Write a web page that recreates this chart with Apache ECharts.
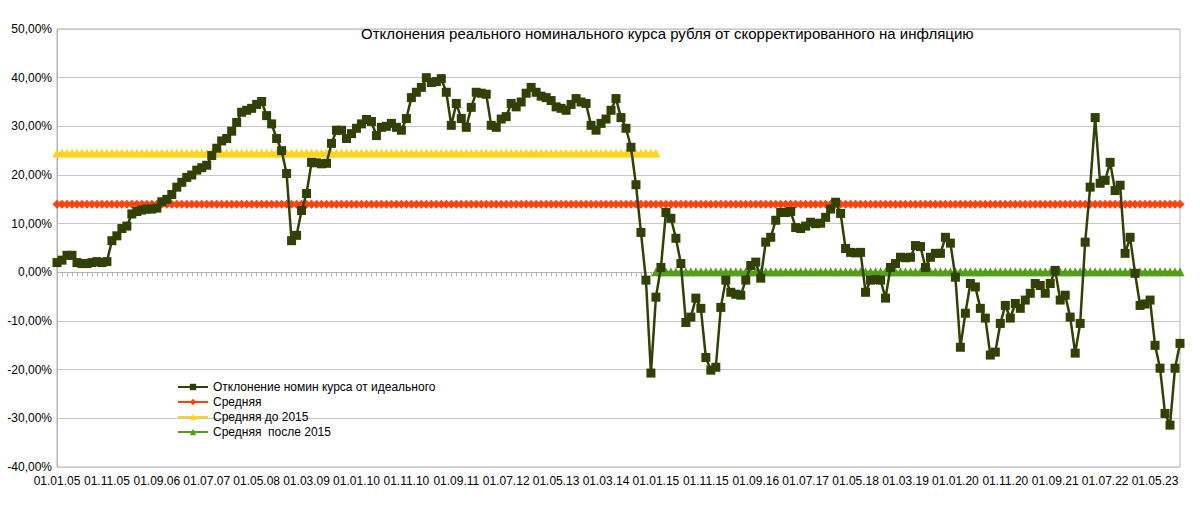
<!DOCTYPE html>
<html>
<head>
<meta charset="utf-8">
<script src="https://cdn.jsdelivr.net/npm/echarts@6/dist/echarts.min.js"></script>
<style>
  html, body { margin: 0; padding: 0; background: #fff; }
  #chart { width: 1200px; height: 506px; }
</style>
</head>
<body>
<div id="chart"></div>
<script>
// monthly deviation, Jan 2005 .. Oct 2023
var deviation = [
  2.0, 2.5, 3.5, 3.5, 2.0, 1.8, 1.8, 2.0, 2.2, 2.0,
  2.2, 6.5, 7.5, 9.0, 9.5, 12.0, 12.5, 12.8, 13.0, 13.0,
  13.2, 14.5, 15.0, 16.0, 17.5, 18.5, 19.5, 20.0, 21.0, 21.5,
  22.0, 24.0, 25.5, 27.0, 27.5, 29.0, 30.8, 32.9, 33.3, 33.7,
  34.5, 35.1, 32.2, 30.5, 27.5, 25.0, 20.3, 6.5, 7.6, 12.7,
  16.2, 22.6, 22.5, 22.3, 22.4, 26.5, 29.2, 29.2, 27.5, 28.5,
  29.6, 30.5, 31.4, 31.0, 28.1, 29.8, 30.0, 30.6, 29.8, 29.2,
  31.6, 35.9, 37.0, 38.0, 40.0, 39.0, 39.2, 39.8, 37.0, 30.2,
  34.7, 31.6, 29.8, 33.9, 37.0, 36.8, 36.6, 30.2, 29.8, 31.5,
  32.0, 34.7, 34.0, 35.0, 36.8, 38.0, 37.0, 36.2, 35.9, 35.3,
  34.0, 33.7, 33.3, 34.5, 35.7, 35.0, 34.7, 30.2, 29.2, 30.6,
  31.5, 33.3, 35.7, 31.8, 29.6, 25.7, 18.0, 8.2, -1.6, -20.7,
  -5.1, 1.0, 12.3, 11.1, 7.0, 1.8, -10.3, -9.2, -5.3, -7.4,
  -17.5, -20.1, -19.5, -7.2, -1.6, -4.1, -4.5, -4.7, -1.6, 1.4,
  2.1, -1.2, 6.2, 7.2, 10.7, 12.3, 12.3, 12.5, 9.2, 9.0,
  9.5, 10.3, 10.0, 10.1, 11.3, 13.0, 14.4, 12.1, 4.9, 4.1,
  4.0, 4.1, -4.1, -1.6, -1.5, -1.6, -5.3, 1.0, 1.8, 3.1,
  3.0, 3.1, 5.5, 5.3, 1.0, 3.1, 3.9, 3.9, 7.2, 6.0,
  -1.0, -15.4, -8.4, -2.3, -3.0, -7.4, -9.4, -17.0, -16.4, -10.5,
  -6.8, -9.4, -6.4, -7.4, -5.7, -4.3, -2.3, -2.7, -4.3, -2.3,
  0.4, -5.7, -4.7, -9.2, -16.6, -10.5, 6.2, 17.5, 31.8, 18.3,
  18.9, 22.6, 16.8, 17.9, 3.9, 7.2, -0.2, -6.8, -6.5, -5.7,
  -15.0, -19.7, -29.0, -31.4, -19.7, -14.6
];
var avgAll = 14.0;
var avgBefore = 24.5;
var avgAfter = 0.1;
var splitIndex = 120; // 01.01.15
var startYear = 2005;

var dates = deviation.map(function(v, i) {
  var m = i % 12 + 1;
  var y = (startYear + Math.floor(i / 12)) % 100;
  return '01.' + (m < 10 ? '0' + m : m) + '.' + (y < 10 ? '0' + y : y);
});
var lineAll = deviation.map(function() { return avgAll; });
var lineBefore = deviation.map(function(v, i) { return i <= splitIndex ? avgBefore : null; });
var lineAfter = deviation.map(function(v, i) { return i >= splitIndex ? avgAfter : null; });

var chart = echarts.init(document.getElementById('chart'), null, { renderer: 'svg' });
chart.setOption({
  animation: false,
  backgroundColor: '#fff',
  textStyle: { fontFamily: 'Liberation Sans, Arial, sans-serif' },
  title: {
    text: 'Отклонения реального номинального курса рубля от скорректированного на инфляцию',
    left: 356, top: 21,
    textStyle: { fontSize: 15, fontWeight: 'normal', color: '#000' }
  },
  legend: {
    orient: 'vertical',
    left: 172, top: 376,
    itemGap: 3, itemWidth: 30, itemHeight: 8,
    textStyle: { fontSize: 12, color: '#000' },
    data: ['Отклонение номин курса от идеального', 'Средняя', 'Средняя до 2015', 'Средняя  после 2015']
  },
  grid: { left: 57, right: 20, top: 29, bottom: 39, show: true, borderColor: '#b3b3b3', borderWidth: 1 },
  xAxis: {
    type: 'category',
    data: dates,
    boundaryGap: false,
    axisLine: { onZero: true, lineStyle: { color: '#b3b3b3' } },
    axisTick: { show: true, interval: 0, length: 4, lineStyle: { color: '#b3b3b3' } },
    axisLabel: { interval: 9, color: '#000', fontSize: 12, margin: 8 },
    splitLine: { show: false }
  },
  yAxis: {
    type: 'value', min: -40, max: 50, interval: 10,
    axisLine: { show: true, lineStyle: { color: '#b3b3b3' } },
    axisTick: { show: false },
    axisLabel: {
      color: '#000', fontSize: 12, margin: 5,
      formatter: function(v) { return v.toFixed(2).replace('.', ',') + '%'; }
    },
    splitLine: { lineStyle: { color: '#c8c8c8' } }
  },
  series: [
    {
      name: 'Средняя', type: 'line', data: lineAll, showAllSymbol: true,
      symbol: 'diamond', symbolSize: 9, z: 2,
      itemStyle: { color: '#ff420e' }, lineStyle: { color: '#ff420e', width: 2 }
    },
    {
      name: 'Средняя до 2015', type: 'line', data: lineBefore, showAllSymbol: true,
      symbol: 'triangle', symbolSize: 9, z: 2,
      itemStyle: { color: '#ffd320' }, lineStyle: { color: '#ffd320', width: 2 }
    },
    {
      name: 'Средняя  после 2015', type: 'line', data: lineAfter, showAllSymbol: true,
      symbol: 'triangle', symbolSize: 9, z: 2,
      itemStyle: { color: '#579d1c' }, lineStyle: { color: '#579d1c', width: 2 }
    },
    {
      name: 'Отклонение номин курса от идеального', type: 'line', data: deviation, showAllSymbol: true,
      symbol: 'rect', symbolSize: 9, z: 3,
      itemStyle: { color: '#314004' }, lineStyle: { color: '#314004', width: 2.5 }
    }
  ]
});
</script>
</body>
</html>
